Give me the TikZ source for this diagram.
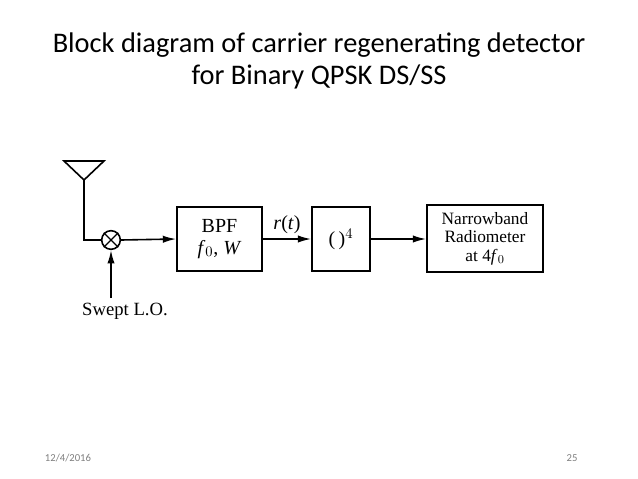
\documentclass[tikz,border=0pt]{standalone}
\usepackage{fontspec}
\setmainfont{Liberation Serif}
\newfontfamily\calib{Carlito}
\usetikzlibrary{arrows.meta}
\begin{document}
\begin{tikzpicture}[x=0.75pt,y=-0.75pt,
  blk/.style={draw,line width=1.3pt,inner sep=0pt,font=\fontsize{15}{16}\selectfont,align=center},
  ar/.style={line width=1.2pt,-{Latex[length=10pt,width=5.5pt]}},
  wire/.style={line width=1.2pt}]
\useasboundingbox[fill=white] (0,0) rectangle (638,478);
\node[font=\calib\fontsize{21.3}{24}\selectfont,align=center] (title) at (319,61) {Block diagram of carrier regenerating detector\\for Binary QPSK DS/SS};
\node[font=\calib\fontsize{8}{9}\selectfont,text=gray] (date) at (68,458) {12/4/2016};
\node[font=\calib\fontsize{8}{9}\selectfont,text=gray] (pg) at (572,458) {25};
\coordinate (at1) at (64,161); \coordinate (at2) at (104,161); \coordinate (ap) at (84,180);
\draw[wire] (at1) -- (at2) -- (ap) -- cycle;
\coordinate (corner) at (84,240);
\node[draw,circle,line width=1.2pt,minimum size=14pt,inner sep=0pt] (mix) at (111,240) {};
\draw[line width=1pt] (mix.north west) -- (mix.south east) (mix.north east) -- (mix.south west);
\draw[wire] (ap) -- (corner) -- (mix.west);
\node[blk,minimum width=85*0.75pt,minimum height=64*0.75pt] (bpf) at (219.5,239) {BPF\\\textit{f}$_0$, \textit{W}};
\node[blk,minimum width=58*0.75pt,minimum height=64*0.75pt] (pw) at (341,239) {(\,)$^4$};
\node[blk,minimum width=116*0.75pt,minimum height=67*0.75pt,font=\fontsize{13}{14}\selectfont] (rad) at (485,238.5) {Narrowband\\Radiometer\\at 4\textit{f}$_0$};
\node[font=\fontsize{14}{15}\selectfont] (lo) at (125,311) {Swept L.O.};
\coordinate (lot) at (111,298);
\draw[ar] (mix.east) -- (bpf.west);
\draw[ar] (bpf.east) -- node[above,font=\fontsize{15}{16}\selectfont]{\textit{r}(\textit{t})} (pw.west);
\draw[ar] (pw.east) -- (pw.east -| rad.west);
\draw[ar] (lot) -- (mix.south);
\end{tikzpicture}
\end{document}
